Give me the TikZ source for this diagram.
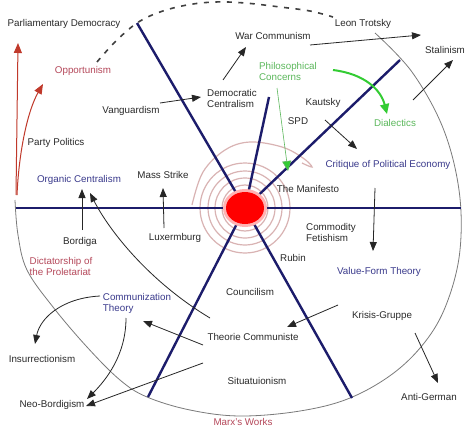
\documentclass[tikz,border=0pt]{standalone}
\usepackage{fontspec}
\setmainfont{Liberation Sans}
\usetikzlibrary{arrows.meta}
\definecolor{navy}{HTML}{1C1C6B}
\definecolor{txt}{HTML}{2A2A2A}
\definecolor{bluet}{HTML}{3A3A8C}
\definecolor{redt}{HTML}{B5485A}
\definecolor{greent}{HTML}{5CB85C}
\definecolor{greena}{HTML}{33CC33}
\definecolor{redarr}{HTML}{C0392B}
\definecolor{ringc}{HTML}{D9B3B3}
\definecolor{outl}{HTML}{7A7A7A}
\begin{document}
\begin{tikzpicture}[x=1pt,y=-1pt,
  font=\fontsize{9.8}{11}\selectfont,
  lbl/.style={inner sep=0pt,text=txt},
  spoke/.style={draw=navy,line width=2.4pt},
  arr/.style={draw=black!85,line width=0.8pt,-{Triangle[length=9pt,width=7pt]}},
  redarrow/.style={draw=redarr,line width=1pt,-{Triangle[length=10pt,width=8pt]}},
  greenthin/.style={draw=greent,line width=0.6pt,-{Triangle[length=10pt,width=9pt,fill=greena]}},
  greenthick/.style={draw=greena,line width=2pt,-{Triangle[length=10pt,width=9pt]}},
  outline/.style={draw=outl,line width=0.8pt},
  topdash/.style={draw=black!75,line width=1.6pt,dash pattern=on 5pt off 6.5pt},
  ring/.style={draw=ringc,line width=1.2pt}]
\useasboundingbox (0,0) rectangle (474,428);
\fill[white] (0,0) rectangle (474,428);

% outline
\draw[outline] plot[smooth,tension=0.6] coordinates {(375,33) (412,72) (443,128) (459,190) (460,250) (448,300) (428,338) (395,372) (350,398) (300,411) (240,416) (190,410) (147,397) (120,380) (87,347) (53,307) (27,270) (18,235) (15,200)};
\draw[topdash] plot[smooth,tension=0.6] coordinates {(97,62) (115,42) (137,23) (160,12) (187,5) (215,2) (245,3) (280,7) (310,11) (333,17)};

% rings
\coordinate (c) at (245,208);
\draw[ring] (c) circle[radius=23pt];
\draw[ring] (c) circle[radius=30pt];
\draw[ring] (c) circle[radius=37pt];
\draw[ring] (c) circle[radius=45pt];
\draw[ring] plot[smooth,tension=0.6] coordinates {(192,205) (203,172) (225,150) (250,142) (282,147) (303,158) (312,167) (302,163)};

% spokes
\coordinate (h1) at (16,208);
\coordinate (h2) at (461,208);
\coordinate (ul) at (137,23);
\coordinate (ur) at (400,60);
\coordinate (up) at (269,97);
\coordinate (dl) at (148,397);
\coordinate (dr) at (352,398);
\draw[spoke] (h1) -- (h2);
\draw[spoke] (c) -- (ul);
\draw[spoke] (c) -- (ur);
\draw[spoke] (c) -- (up);
\draw[spoke] (c) -- (dl);
\draw[spoke] (c) -- (dr);

% centre dot
\fill[red!30] (c) ellipse[x radius=22pt,y radius=19pt];
\fill[red] (c) ellipse[x radius=19pt,y radius=16pt];

% labels
\node[lbl] (pd) at (64,24) {Parliamentary Democracy};
\node[lbl,text=redt] (opp) at (83,71) {Opportunism};
\node[lbl] (vang) at (131,111) {Vanguardism};
\node[lbl,align=left] (dc) at (232,98) {Democratic\\Centralism};
\node[lbl] (wc) at (273,36) {War Communism};
\node[lbl] (lt) at (363,24) {Leon Trotsky};
\node[lbl] (stal) at (445,50) {Stalinism};
\node[lbl,text=greent,align=left] (phil) at (288,71) {Philosophical\\Concerns};
\node[lbl] (kaut) at (323,103) {Kautsky};
\node[lbl] (spd) at (298,121) {SPD};
\node[lbl,text=greent] (dial) at (395,123) {Dialectics};
\node[lbl,text=bluet] (crit) at (388,165) {Critique of Political Economy};
\node[lbl] (man) at (308,189) {The Manifesto};
\node[lbl,align=left] (cf) at (331,232) {Commodity\\Fetishism};
\node[lbl] (rub) at (293,258) {Rubin};
\node[lbl,text=bluet] (vft) at (379,272) {Value-Form Theory};
\node[lbl] (ms) at (163,175) {Mass Strike};
\node[lbl,text=bluet] (oc) at (79,180) {Organic Centralism};
\node[lbl] (pp) at (56,143) {Party Politics};
\node[lbl] (bord) at (80,242) {Bordiga};
\node[lbl] (lux) at (175,238) {Luxermburg};
\node[lbl,text=redt,align=left] (dotp) at (61,266) {Dictatorship of\\the Proletariat};
\node[lbl,text=bluet,align=left] (ct) at (137,303) {Communization\\Theory};
\node[lbl] (ins) at (42,359) {Insurrectionism};
\node[lbl] (nb) at (52,405) {Neo-Bordigism};
\node[lbl] (coun) at (250,292) {Councilism};
\node[lbl] (tc) at (253,337) {Theorie Communiste};
\node[lbl] (sit) at (257,381) {Situatuionism};
\node[lbl,text=redt] (mw) at (243,422) {Marx's Works};
\node[lbl] (kg) at (382,316) {Krisis-Gruppe};
\node[lbl] (ag) at (429,397) {Anti-German};

% arrow end points
\coordinate (a1s) at (160,103); \coordinate (a1e) at (201,97);
\coordinate (a2s) at (223,80);  \coordinate (a2e) at (246,47);
\coordinate (a3s) at (310,45);  \coordinate (a3e) at (421,35);
\coordinate (a4s) at (413,100); \coordinate (a4e) at (453,60);
\coordinate (a5s) at (333,70);  \coordinate (a5e) at (387,114);
\coordinate (a6s) at (277,88);  \coordinate (a6e) at (288,171);
\coordinate (a7s) at (325,120); \coordinate (a7e) at (357,149);
\coordinate (a8s) at (375,188); \coordinate (a8e) at (373,251);
\coordinate (a9s) at (82,230);  \coordinate (a9e) at (82,189);
\coordinate (a10s) at (164,228); \coordinate (a10e) at (163,188);
\coordinate (a11s) at (210,318); \coordinate (a11e) at (90,193);
\coordinate (a12s) at (203,345); \coordinate (a12e) at (143,321);
\coordinate (a13s) at (203,363); \coordinate (a13e) at (86,406);
\coordinate (a14s) at (100,296); \coordinate (a14e) at (35,344);
\coordinate (a15s) at (126,318); \coordinate (a15e) at (87,399);
\coordinate (a16s) at (338,305); \coordinate (a16e) at (287,327);
\coordinate (a17s) at (415,333); \coordinate (a17e) at (438,383);
\coordinate (r1s) at (16,195);  \coordinate (r1e) at (18,43);
\coordinate (r2s) at (17,195);  \coordinate (r2e) at (43,84);

% arrows
\draw[arr] (a1s) -- (a1e);
\draw[arr] (a2s) -- (a2e);
\draw[arr] (a3s) -- (a3e);
\draw[arr] (a4s) -- (a4e);
\draw[greenthick] (a5s) .. controls (365,74) and (381,90) .. (a5e);
\draw[greenthin] (a6s) -- (a6e);
\draw[arr] (a7s) -- (a7e);
\draw[arr] (a8s) -- (a8e);
\draw[arr] (a9s) -- (a9e);
\draw[arr] (a10s) -- (a10e);
\draw[arr] (a11s) .. controls (150,282) and (110,232) .. (a11e);
\draw[arr] (a12s) -- (a12e);
\draw[arr] (a13s) -- (a13e);
\draw[arr] (a14s) .. controls (62,298) and (40,318) .. (a14e);
\draw[arr] (a15s) .. controls (126,355) and (106,380) .. (a15e);
\draw[arr] (a16s) -- (a16e);
\draw[arr] (a17s) -- (a17e);
\draw[redarrow] (r1s) -- (r1e);
\draw[redarrow] (r2s) .. controls (19,150) and (28,110) .. (r2e);
\end{tikzpicture}
\end{document}
